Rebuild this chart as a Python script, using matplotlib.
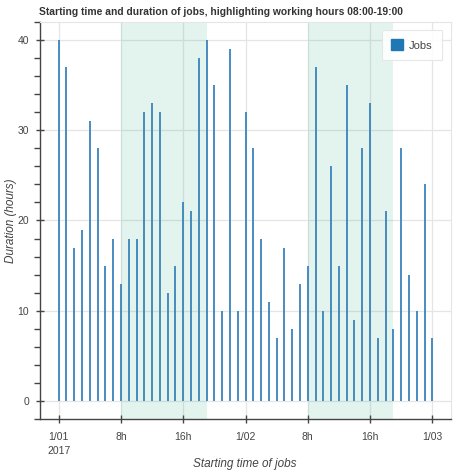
import matplotlib
matplotlib.use("Agg")
import matplotlib.pyplot as plt
import matplotlib.dates as mdates
from matplotlib.ticker import FixedLocator, MultipleLocator
from matplotlib.patches import Patch
import datetime as dt

start = dt.datetime(2017, 1, 1, 0, 0)
hours = list(range(49))
durations = [40, 37, 17, 19, 31, 28, 15, 18, 13, 18, 18, 32, 33, 32, 12, 15, 22, 21,
             38, 40, 35, 10, 39, 10, 32, 28, 18, 11, 7, 17, 8, 13, 15, 37, 10, 26,
             15, 35, 9, 28, 33, 7, 21, 8, 28, 14, 10, 24, 7]
work_periods = [(8, 19), (32, 43)]
x_tick_hours = [0, 8, 16, 24, 32, 40, 48]
x_tick_labels = ["1/01\n2017", "8h", "16h", "1/02", "8h", "16h", "1/03"]

times = [start + dt.timedelta(hours=h) for h in hours]
tnum = mdates.date2num(times)

plt.rcParams['font.family'] = ['Liberation Sans', 'DejaVu Sans']

W = 474
fig = plt.figure(figsize=(4.74, 4.74), dpi=100)
ax = fig.add_axes([40/W, 1-419/W, (451-40)/W, (419-22)/W])

for a, b in work_periods:
    ax.axvspan(mdates.date2num(start + dt.timedelta(hours=a)),
               mdates.date2num(start + dt.timedelta(hours=b)),
               color='#009E73', alpha=0.11, lw=0, zorder=1)

ax.vlines(tnum, 0, durations, colors='#3a84bc', linewidth=1.3, zorder=3)

x0 = mdates.date2num(start)
ax.set_xlim(x0 - 2.4/24, x0 + 50.4/24)
ax.set_ylim(-2, 42)

xt = [x0 + h/24 for h in x_tick_hours]
ax.xaxis.set_major_locator(FixedLocator(xt))
ax.set_xticklabels(x_tick_labels)
ax.yaxis.set_major_locator(MultipleLocator(10))
ax.yaxis.set_minor_locator(MultipleLocator(2))

ax.grid(True, which='major', color='#e5e5e5', lw=0.9, zorder=0)
ax.set_axisbelow(True)
for s in ['top', 'right']:
    ax.spines[s].set_color('#e5e5e5')
    ax.spines[s].set_linewidth(0.8)
for s in ['left', 'bottom']:
    ax.spines[s].set_color('#444444')
    ax.spines[s].set_linewidth(1.0)

ax.tick_params(axis='both', which='major', direction='inout', length=6, width=1,
               color='#444444', labelcolor='#444444', labelsize=7.5)
ax.tick_params(axis='y', which='minor', direction='out', length=4, width=1, color='#444444')
ax.tick_params(axis='x', which='major', pad=6)
ax.tick_params(axis='y', which='major', pad=5)
for lab in ax.get_xticklabels():
    lab.set_linespacing(1.6)

ax.set_xlabel("Starting time of jobs", style='italic', fontsize=8.5, color='#444444')
ax.set_ylabel("Duration (hours)", style='italic', fontsize=8.5, color='#444444')
ax.xaxis.set_label_coords((245-40)/411, (419-464)/397)
ax.yaxis.set_label_coords((11-40)/411, 0.5)
ax.xaxis.label.set_va('center')
ax.yaxis.label.set_va('center')

fig.text(39/W, 1-12/W, "Starting time and duration of jobs, highlighting working hours 08:00-19:00",
         fontsize=7.4, fontweight='bold', color='#333333', ha='left', va='center')

handles = [Patch(facecolor='#1f77b4', edgecolor='#1f77b4')]
leg = ax.legend(handles, ['Jobs'], loc='upper right', bbox_to_anchor=((442-40)/411, (419-30)/397),
                borderaxespad=0, frameon=True, fancybox=False, fontsize=8,
                handlelength=1.1, handleheight=1.1,
                borderpad=0.85, handletextpad=0.5, labelcolor='#444444')
leg.get_frame().set_edgecolor('#e5e5e5')
leg.get_frame().set_linewidth(0.8)
leg.get_frame().set_alpha(0.9)

fig.savefig("out.png", dpi=100)
